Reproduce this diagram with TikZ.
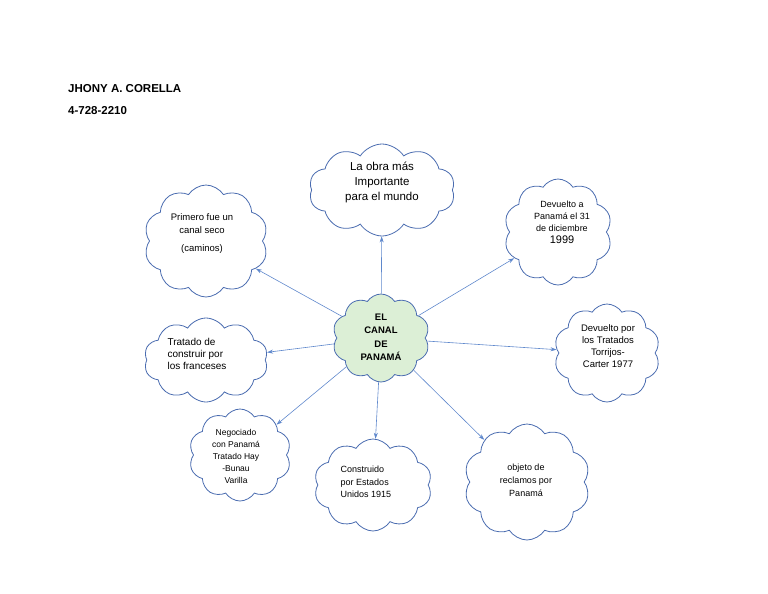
\documentclass[tikz,border=0pt]{standalone}
\usepackage{fontspec}
\setmainfont{Liberation Sans}
\usetikzlibrary{shapes.symbols,arrows.meta}
\definecolor{cloudline}{HTML}{4A6CB0}
\definecolor{arrowline}{HTML}{5F88CC}
\definecolor{centerfill}{HTML}{DCEFD6}
\tikzset{
  idea/.style={cloud, cloud puffs=10, cloud puff arc=115, cloud ignores aspect,
    draw=cloudline, line width=0.8pt, fill=white, inner sep=0pt},
  txt/.style={align=center, inner sep=0pt, font=\fontsize{9.5}{12.5}\selectfont},
  ltxt/.style={align=left, inner sep=0pt, font=\fontsize{9.5}{12.5}\selectfont},
  link/.style={draw=arrowline, line width=0.6pt, -{Stealth[length=6pt,width=4pt]}},
  header/.style={anchor=west, inner sep=0pt, font=\fontsize{11.5}{13}\selectfont\bfseries}
}
\begin{document}
\begin{tikzpicture}[x=1pt,y=-1pt]
\useasboundingbox (0,0) rectangle (768,594);
\node[header] (name) at (68,89) {JHONY A. CORELLA};
\node[header] (id) at (68,111) {4-728-2210};

\node[idea, fill=centerfill, minimum width=97, minimum height=88] (c) at (381,338) {};
\node[txt, font=\fontsize{9.5}{13.5}\selectfont\bfseries] (c-txt) at (381,337) {EL\\CANAL\\DE\\PANAMÁ};

\node[idea, minimum width=146, minimum height=92] (t) at (382,190) {};
\node[txt, font=\fontsize{11.5}{15}\selectfont] (t-txt) at (382,182) {La obra más\\Importante\\para el mundo};

\node[idea, minimum width=124, minimum height=112] (tl) at (206,241) {};
\node[txt] (tl-txt) at (202,234) {Primero fue un\\canal seco\\[6pt](caminos)};

\node[idea, minimum width=108, minimum height=106] (tr) at (558,232) {};
\node[txt, font=\fontsize{9}{12}\selectfont] (tr-txt) at (562,222) {Devuelto a\\Panamá el 31\\de diciembre\\{\fontsize{11}{12}\selectfont 1999}};

\node[idea, minimum width=106, minimum height=98] (r) at (607,353) {};
\node[txt, font=\fontsize{9.5}{12}\selectfont] (r-txt) at (608,346) {Devuelto por\\los Tratados\\Torrijos-\\Carter 1977};

\node[idea, minimum width=124, minimum height=84] (l) at (206,360) {};
\node[ltxt, font=\fontsize{10}{12}\selectfont] (l-txt) at (197,354) {Tratado de\\construir por\\los franceses};

\node[idea, minimum width=102, minimum height=92] (bl) at (240,455) {};
\node[txt, font=\fontsize{8.5}{12}\selectfont] (bl-txt) at (236,456) {Negociado\\con Panamá\\Tratado Hay\\-Bunau\\Varilla};

\node[idea, minimum width=118, minimum height=92] (b) at (373,485) {};
\node[ltxt, font=\fontsize{9}{12.5}\selectfont] (b-txt) at (366,482) {Construido\\por Estados\\Unidos 1915};

\node[idea, minimum width=126, minimum height=116] (br) at (527,482) {};
\node[txt, font=\fontsize{9}{13}\selectfont] (br-txt) at (526,480) {objeto de\\reclamos por\\Panamá};

\draw[link] (c) -- (t);
\draw[link] (c) -- (tl);
\draw[link] (c) -- (tr);
\draw[link] (c) -- (r);
\draw[link] (c) -- (l);
\draw[link] (c) -- (bl);
\draw[link] (c) -- (b);
\draw[link] (c) -- (br);
\end{tikzpicture}
\end{document}
